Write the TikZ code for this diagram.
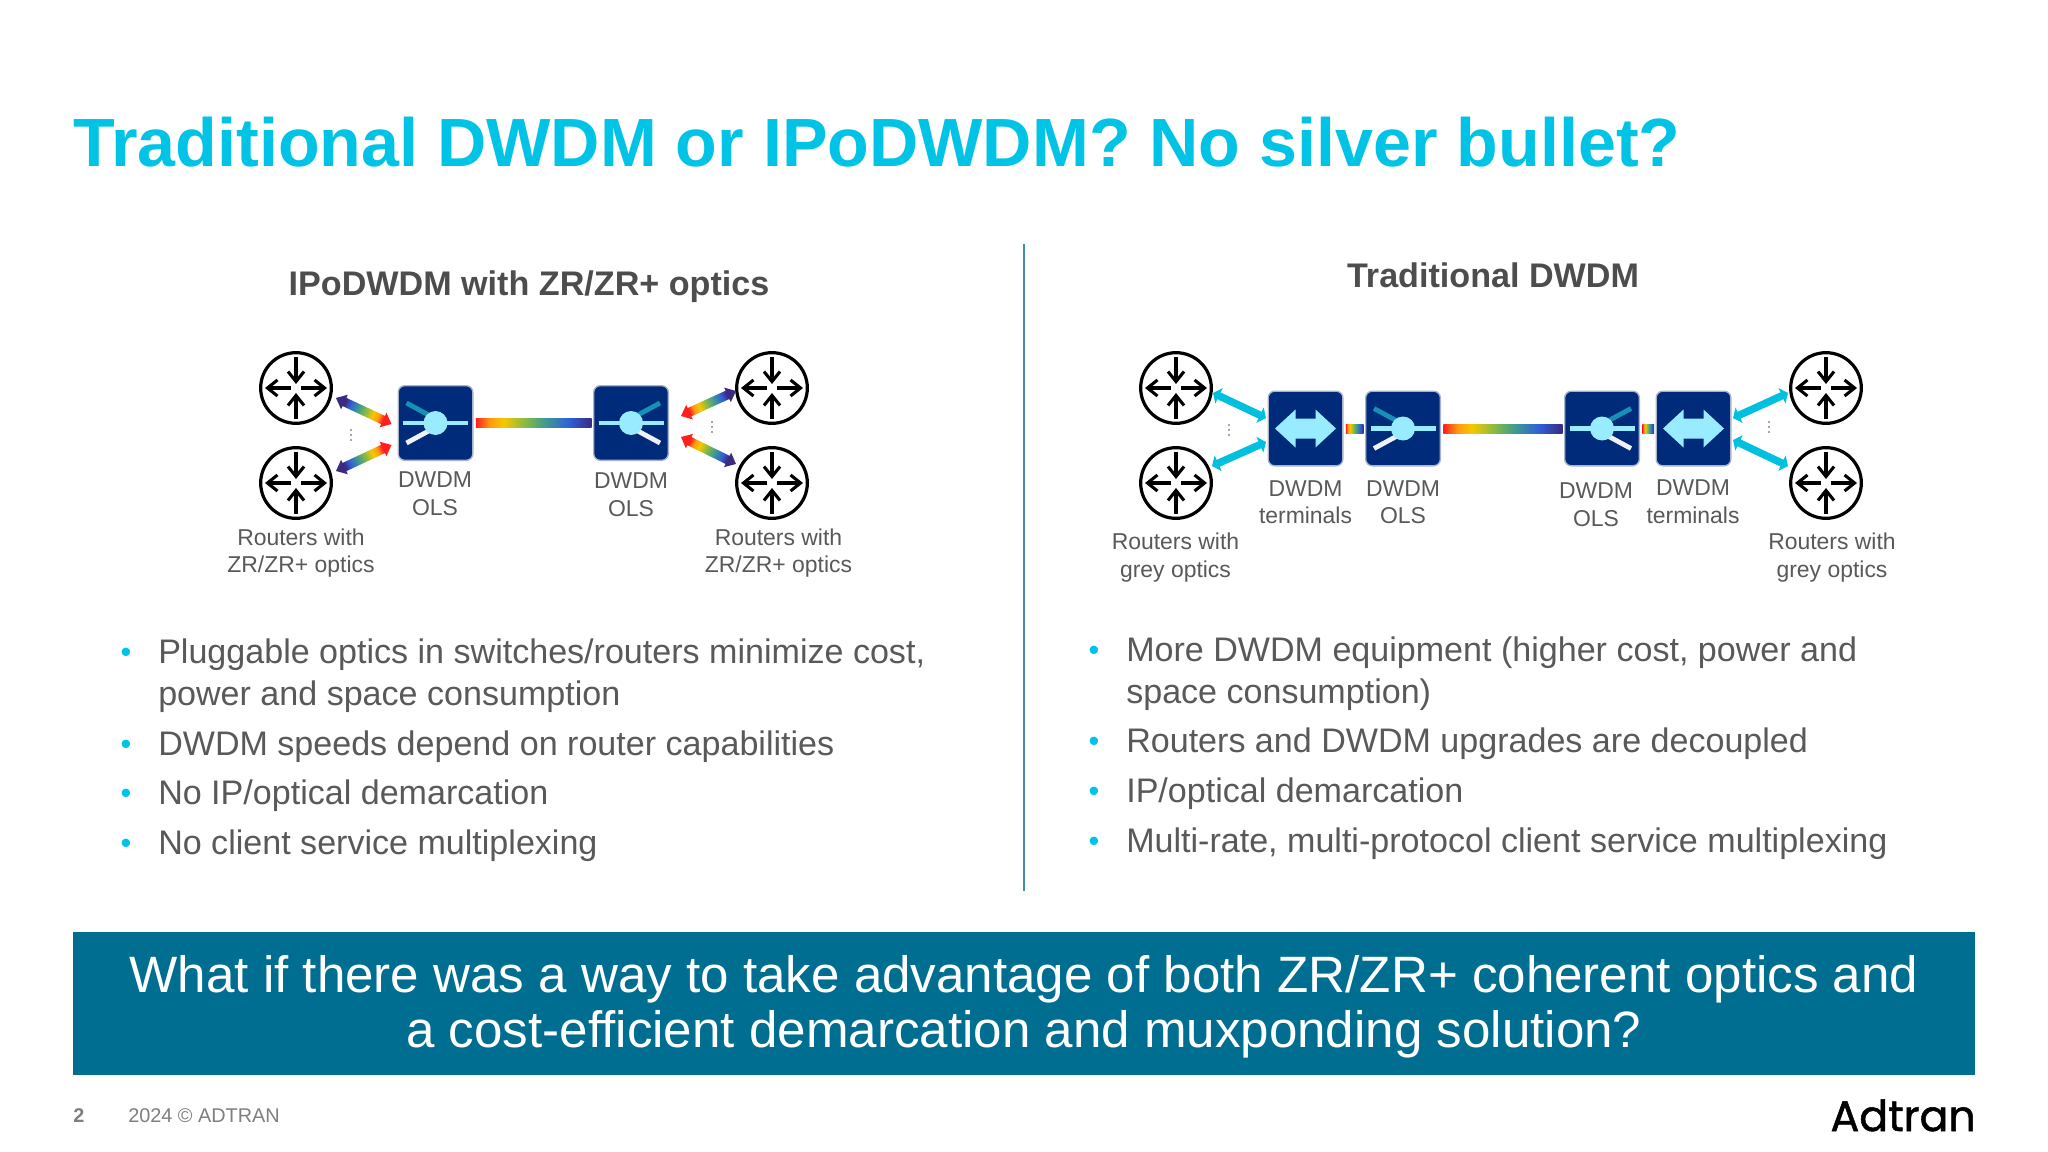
\documentclass[tikz,border=0pt]{standalone}
\usepackage{fontspec}
\setmainfont{Liberation Sans}
\newfontfamily\logofont[FakeBold=1.2]{Poppins}
\usetikzlibrary{arrows.meta,calc}
\definecolor{titlecyan}{HTML}{00C3E6}
\definecolor{txtgray}{HTML}{595959}
\definecolor{headgray}{HTML}{4D4D4D}
\definecolor{footgray}{HTML}{7F7F7F}
\definecolor{bannerblue}{HTML}{006E90}
\definecolor{divider}{HTML}{3F8FA8}
\definecolor{boxblue}{HTML}{002A7A}
\definecolor{boxedge}{HTML}{A9B3C9}
\definecolor{iconcyan}{HTML}{99EBFF}
\definecolor{iconteal}{HTML}{1591B5}
\definecolor{iconwhite}{HTML}{EEF2F6}
\definecolor{linkcyan}{HTML}{00C0E0}
\definecolor{rbred}{HTML}{FF1F1F}
\definecolor{rborange}{HTML}{FF9A10}
\definecolor{rbyellow}{HTML}{F5C800}
\definecolor{rbgreen}{HTML}{7FB84A}
\definecolor{rbteal}{HTML}{3F9A90}
\definecolor{rbblue}{HTML}{3060D8}
\definecolor{rbindigo}{HTML}{3A2A80}
\pgfdeclarehorizontalshading{rainbow}{100bp}{
 color(0bp)=(rbred); color(25bp)=(rbred); color(31bp)=(rborange); color(37bp)=(rbyellow);
 color(47bp)=(rbgreen); color(55bp)=(rbteal); color(65bp)=(rbblue); color(75bp)=(rbindigo); color(100bp)=(rbindigo)}
\pgfdeclarehorizontalshading{rainbowtip}{100bp}{
 color(0bp)=(rbred); color(33bp)=(rbred); color(37bp)=(rborange); color(42bp)=(rbyellow);
 color(49bp)=(rbgreen); color(55bp)=(rbteal); color(62bp)=(rbblue); color(67bp)=(rbindigo); color(100bp)=(rbindigo)}
\tikzset{
 x=0.75pt,y=-0.75pt,
 routerbody/.style={circle,draw=black,line width=2.4pt,minimum size=53pt,inner sep=0pt,outer sep=0pt,fill=white},
 routerarrow/.style={draw=black,line width=2.3pt,-{Straight Barb[length=7.5pt,width=12pt,line width=2.3pt]}},
 devbox/.style={rectangle,rounded corners=5pt,draw=boxedge,line width=1pt,fill=boxblue,minimum size=56pt,inner sep=0pt,outer sep=0pt},
 lbl/.style={font=\fontsize{17.2}{20.6}\selectfont,text=txtgray,align=center,inner sep=0pt},
 heading/.style={font=\fontsize{25.6}{30}\selectfont\bfseries,text=headgray,inner sep=0pt},
 itemtext/.style={font=\fontsize{25.55}{30}\selectfont,text=txtgray,inner sep=0pt,anchor=base west},
 itemdot/.style={font=\fontsize{23}{24}\selectfont,text=titlecyan,inner sep=0pt,anchor=base},
 cyanlink/.style={draw=linkcyan,line width=5.6pt,{Triangle[length=5pt,width=12.5pt]}-{Triangle[length=5pt,width=12.5pt]}},
}
\newcommand{\routerat}[3]{%
 \node[routerbody] (#1) at (#2,#3) {};
 \draw[routerarrow] ($(#1)+(0,-31)$) -- ($(#1)+(0,-4)$);
 \draw[routerarrow] ($(#1)+(0,31)$) -- ($(#1)+(0,5)$);
 \draw[routerarrow] ($(#1)+(-5,0)$) -- ($(#1)+(-31,0)$);
 \draw[routerarrow] ($(#1)+(5,0)$) -- ($(#1)+(31,0)$);
}
% #1 name, #2 x, #3 y, #4 sign (1 splitter on left, -1 mirrored)
\newcommand{\olsat}[4]{%
 \node[devbox] (#1) at (#2,#3) {};
 \draw[iconteal,line width=3.6pt] ($(#1)+(#4*-29,-20)$) -- ($(#1)+(#4*-5,-7)$);
 \draw[iconwhite,line width=3.6pt] ($(#1)+(#4*-29,20)$) -- ($(#1)+(#4*-5,7)$);
 \draw[iconcyan,line width=3.4pt] ($(#1)+(-32.5,0)$) -- ($(#1)+(32.5,0)$);
 \fill[iconcyan] (#1) circle[radius=12];
}
\newcommand{\termat}[3]{%
 \node[devbox] (#1) at (#2,#3) {};
 \fill[iconcyan] ($(#1)+(-30.5,0)$) -- ($(#1)+(-10,-19)$) -- ($(#1)+(-10,-10)$) -- ($(#1)+(10,-10)$) -- ($(#1)+(10,-19)$) -- ($(#1)+(30.5,0)$) -- ($(#1)+(10,19)$) -- ($(#1)+(10,10)$) -- ($(#1)+(-10,10)$) -- ($(#1)+(-10,19)$) -- cycle;
}
% rainbow double arrow: #1 red end, #2 indigo end
\newcommand{\rainbowarrow}[2]{%
 \coordinate (tmpa) at #1; \coordinate (tmpb) at #2;
 \pgfpointdiff{\pgfpointanchor{tmpa}{center}}{\pgfpointanchor{tmpb}{center}}\pgfgetlastxy{\rbdx}{\rbdy}%
 \pgfmathsetmacro\rbang{atan2(\rbdy,\rbdx)}\pgfmathsetmacro\rblen{veclen(\rbdx,\rbdy)}%
 \pgfmathsetmacro\rbneck{\rblen-7}%
 \shade[shading=rainbowtip,transform canvas={shift={(tmpa)},rotate=\rbang}]
  (0pt,0pt) -- (7pt,6pt) -- (7pt,3.4pt) -- (\rbneck pt,3.4pt) -- (\rbneck pt,6pt) -- (\rblen pt,0pt) -- (\rbneck pt,-6pt) -- (\rbneck pt,-3.4pt) -- (7pt,-3.4pt) -- (7pt,-6pt) -- cycle;
}
% rainbow bar between two devices
\newcommand{\rainbowbar}[2]{%
 \shade[shading=rainbow] ($(#1.east)+(3,-4.5)$) rectangle ($(#2.west)+(-2,4.5)$);
}
\newcommand{\tridots}[2]{%
 \fill[headgray] (#1,#2-5) circle[radius=0.9] (#1,#2) circle[radius=0.9] (#1,#2+5) circle[radius=0.9];
}
\begin{document}
\begin{tikzpicture}
\useasboundingbox (0,0) rectangle (2048,1152);
\fill[white] (0,0) rectangle (2048,1152);
\node[anchor=base west,inner sep=0pt,text=titlecyan,font=\fontsize{51.17}{60}\selectfont\bfseries] (title) at (73,166.5) {Traditional DWDM or IPoDWDM? No silver bullet?};
\coordinate (divtop) at (1024,244); \coordinate (divbot) at (1024,891);
\draw[divider,line width=1.5pt] (divtop) -- (divbot);
% ---------- left diagram
\node[heading] (hl) at (529,287) {IPoDWDM with ZR/ZR+ optics};
\routerat{ra}{296}{388}
\routerat{rb}{296}{483}
\routerat{rc}{772}{388}
\routerat{rd}{772}{483}
\olsat{olsa}{435.5}{423}{1}
\olsat{olsb}{631}{423}{-1}
\rainbowbar{olsa}{olsb}
\rainbowarrow{($(olsa)+(-44,1)$)}{($(ra)+(40,10)$)}
\rainbowarrow{($(olsa)+(-44,22)$)}{($(rb)+(40,-12)$)}
\rainbowarrow{($(olsb)+(50,-7)$)}{($(rc)+(-36,3)$)}
\rainbowarrow{($(olsb)+(50,14)$)}{($(rd)+(-36,-19)$)}
\tridots{351}{435}
\tridots{712}{427}
\node[lbl] (l1) at (435,493.5) {DWDM\\OLS};
\node[lbl] (l2) at (631,494.5) {DWDM\\OLS};
\node[lbl] (l3) at (301,553) {Routers with\\ZR/ZR+ optics};
\node[lbl] (l4) at (778.5,553) {Routers with\\ZR/ZR+ optics};
% ---------- right diagram
\node[heading] (hr) at (1493,275) {Traditional DWDM};
\routerat{re}{1176}{388}
\routerat{rf}{1176}{483}
\routerat{rg}{1826}{388}
\routerat{rh}{1826}{483}
\termat{ta}{1305.5}{428.5}
\olsat{olsc}{1403}{428.5}{1}
\olsat{olsd}{1602}{428.5}{-1}
\termat{tb}{1693.5}{428.5}
\rainbowbar{ta}{olsc}
\rainbowbar{olsc}{olsd}
\rainbowbar{olsd}{tb}
\draw[cyanlink] ($(re)+(37,5)$) -- ($(ta)+(-39.5,-10.5)$);
\draw[cyanlink] ($(rf)+(36,-17)$) -- ($(ta)+(-39.5,13.5)$);
\draw[cyanlink] ($(tb)+(39.5,-10.5)$) -- ($(rg)+(-38,5)$);
\draw[cyanlink] ($(tb)+(39.5,11.5)$) -- ($(rh)+(-38,-17)$);
\tridots{1229}{430}
\tridots{1769}{427}
\node[lbl] (l5) at (1305.5,502) {DWDM\\terminals};
\node[lbl] (l6) at (1403,502) {DWDM\\OLS};
\node[lbl] (l7) at (1596,504.5) {DWDM\\OLS};
\node[lbl] (l8) at (1693,501.5) {DWDM\\terminals};
\node[lbl] (l9) at (1175.5,557.5) {Routers with\\grey optics};
\node[lbl] (l10) at (1832,557.5) {Routers with\\grey optics};
% ---------- bullets left
\node[itemdot] (da) at (126,662) {•};
\node[itemtext] (ia) at (158,663.5) {Pluggable optics in switches/routers minimize cost,};
\node[itemtext] (iaa) at (158,705) {power and space consumption};
\node[itemdot] (db) at (126,754) {•};
\node[itemtext] (ib) at (158,755) {DWDM speeds depend on router capabilities};
\node[itemdot] (dc) at (126,803) {•};
\node[itemtext] (ic) at (158,804) {No IP/optical demarcation};
\node[itemdot] (dd) at (126,853) {•};
\node[itemtext] (id) at (158,854) {No client service multiplexing};
% ---------- bullets right
\node[itemdot] (de) at (1094,660.5) {•};
\node[itemtext] (ie) at (1126,661.5) {More DWDM equipment (higher cost, power and};
\node[itemtext] (iee) at (1126,703) {space consumption)};
\node[itemdot] (df) at (1094,751) {•};
\node[itemtext] (if) at (1126,752) {Routers and DWDM upgrades are decoupled};
\node[itemdot] (dg) at (1094,801) {•};
\node[itemtext] (ig) at (1126,802) {IP/optical demarcation};
\node[itemdot] (dh) at (1094,851) {•};
\node[itemtext] (ih) at (1126,852) {Multi-rate, multi-protocol client service multiplexing};
% ---------- banner
\fill[bannerblue] (73,932) rectangle (1975,1075);
\node[text=white,align=center,inner sep=0pt,font=\fontsize{38.34}{41.3}\selectfont] (banner) at (1024,1007) {What if there was a way to take advantage of both ZR/ZR+ coherent optics and\\a cost-efficient demarcation and muxponding solution?};
% ---------- footer
\node[anchor=base west,inner sep=0pt,text=footgray,font=\fontsize{14.9}{18}\selectfont\bfseries] (pg) at (73,1122.5) {2};
\node[anchor=base west,inner sep=0pt,text=footgray,font=\fontsize{14.9}{18}\selectfont] (cr) at (128,1122.5) {2024 © ADTRAN};
\node[anchor=base east,inner sep=0pt,text=black,font=\logofont\fontsize{32}{34}\selectfont] (logo) at (1976,1131) {Adtran};
\end{tikzpicture}
\end{document}
